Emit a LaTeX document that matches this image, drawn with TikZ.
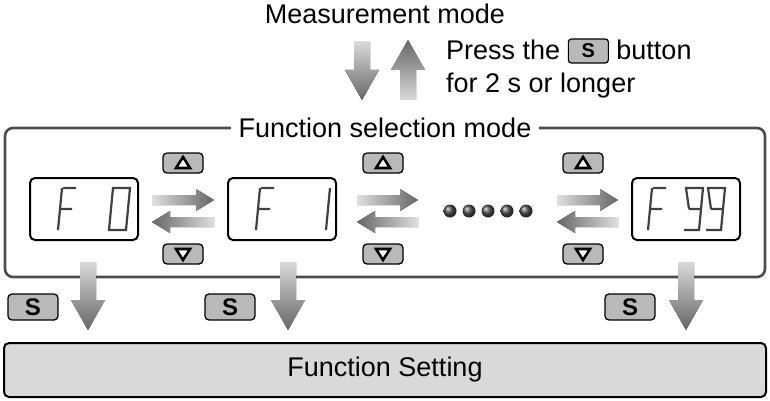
\documentclass[tikz,border=0pt]{standalone}
\usepackage{fontspec}
\setmainfont{Liberation Sans}
\usetikzlibrary{calc}
\begin{document}
\begin{tikzpicture}[x=1pt,y=-1pt,
 txt/.style={font=\fontsize{27}{30}\selectfont,inner sep=0},
 disp/.style={draw,line width=2pt,rounded corners=5pt,minimum width=108pt,minimum height=62pt,inner sep=0},
 btn/.style={draw,line width=1.3pt,fill=gray!55,rounded corners=4pt,minimum width=40pt,minimum height=20pt,inner sep=0},
 sbtn/.style={btn,minimum width=50pt,minimum height=26pt,font=\fontsize{24}{24}\selectfont\bfseries},
 seg/.style={line width=2.2pt,draw=black!75}]
\useasboundingbox (0,0) rectangle (770,401);
% arrow macros
\newcommand\harR[3]{\fill[left color=gray!25,right color=gray!80!black] (#1,#3-5) -- (#2-18,#3-5) -- (#2-18,#3-11) -- (#2,#3) -- (#2-18,#3+11) -- (#2-18,#3+5) -- (#1,#3+5) -- cycle;}
\newcommand\harL[3]{\fill[right color=gray!25,left color=gray!80!black] (#2,#3-5) -- (#1+18,#3-5) -- (#1+18,#3-11) -- (#1,#3) -- (#1+18,#3+11) -- (#1+18,#3+5) -- (#2,#3+5) -- cycle;}
\newcommand\varD[3]{\fill[top color=gray!30,bottom color=gray!80!black] (#1-8,#2) -- (#1+8,#2) -- (#1+8,#3-30) -- (#1+17,#3-30) -- (#1,#3) -- (#1-17,#3-30) -- (#1-8,#3-30) -- cycle;}
\newcommand\varU[3]{\fill[bottom color=gray!30,top color=gray!80!black] (#1-8,#3) -- (#1+8,#3) -- (#1+8,#2+30) -- (#1+17,#2+30) -- (#1,#2) -- (#1-17,#2+30) -- (#1-8,#2+30) -- cycle;}
% top
\node[txt] (meas) at (385,14) {Measurement mode};
\varD{362}{42}{100}
\varU{408}{40}{100}
\node[txt,anchor=west] (press) at (446,51) {Press the \tikz[baseline=-0.6ex]\node[draw,line width=1.2pt,fill=gray!55,rounded corners=3pt,minimum width=40pt,minimum height=24pt,inner sep=0,font=\fontsize{20}{20}\selectfont\bfseries]{S};{} button};
\node[txt,anchor=west] (for) at (446,86) {for 2 s or longer};
% frame
\draw[line width=2.6pt,draw=black!70,rounded corners=8pt] (5,128) rectangle (765,277);
\node[txt,fill=white,inner xsep=8pt,inner ysep=2pt] (fsm) at (385,128) {Function selection mode};
% displays
\node[disp] (d0) at (84,209) {};
\node[disp] (d1) at (282,209) {};
\node[disp] (d99) at (686,209) {};
% F0
\draw[seg] (62,188) -- (58,230) (63,188) -- (76,188) (60,209) -- (72,209);
\draw[seg] (113,188) -- (109,230) -- (126,230) -- (130,188) -- cycle;
% F1
\draw[seg] (260,188) -- (256,230) (261,188) -- (274,188) (258,209) -- (270,209);
\draw[seg] (330,188) -- (326,230);
% F99
\draw[seg] (652,188) -- (648,230) (653,188) -- (666,188) (650,209) -- (662,209);
\draw[seg] (689,209) -- (686,188) -- (703,188) -- (699,230) -- (684,230) (689,209) -- (700,209);
\draw[seg] (711,209) -- (708,188) -- (725,188) -- (721,230) -- (706,230) (711,209) -- (722,209);
% horizontal arrows and buttons
\foreach \a/\b in {152/214,357/418,557/618}{
  \harR{\a}{\b}{200}
  \harL{\a}{\b}{222}
}
\foreach \x/\n in {183/a,383/b,583/c}{
  \node[btn] (up\n) at (\x,163) {};
  \draw[line width=2.6pt,fill=white] ($(up\n)+(0,-6)$) -- ($(up\n)+(-7,5)$) -- ($(up\n)+(7,5)$) -- cycle;
  \node[btn] (dn\n) at (\x,254) {};
  \draw[line width=2.6pt,fill=white] ($(dn\n)+(0,6)$) -- ($(dn\n)+(-7,-5)$) -- ($(dn\n)+(7,-5)$) -- cycle;
}
% dots
\foreach \i in {0,...,4}{\shade[ball color=gray!60!black] (450+\i*19,211) circle (6.5);}
% down arrows
\varD{88}{262}{330}
\varD{288}{262}{330}
\varD{686}{262}{330}
\node[sbtn] (s1) at (33,307) {S};
\node[sbtn] (s2) at (230,307) {S};
\node[sbtn] (s3) at (630,307) {S};
% bottom
\node[draw,line width=2pt,fill=gray!30,rounded corners=5pt,minimum width=762pt,minimum height=54pt,txt] (fs) at (385,370) {Function Setting};
\end{tikzpicture}
\end{document}
